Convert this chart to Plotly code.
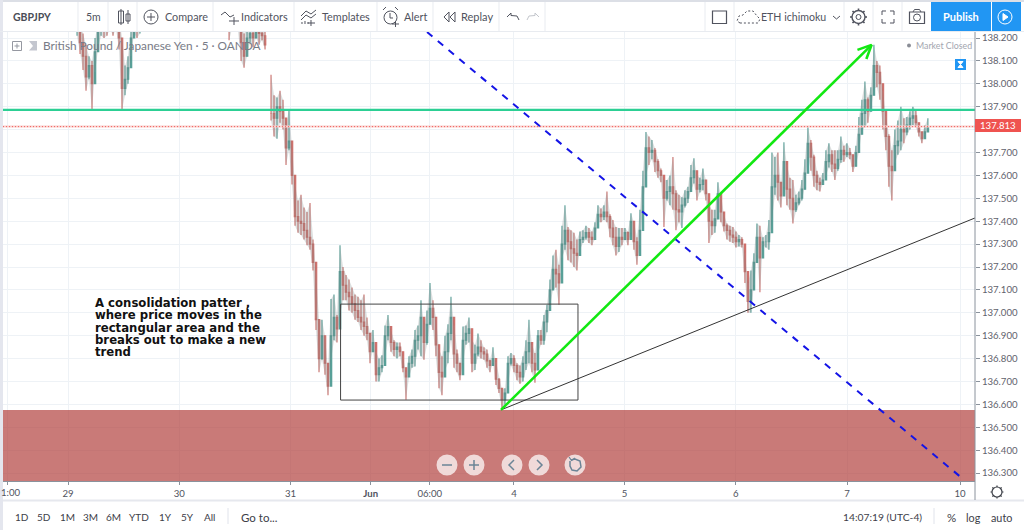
import math
import numpy as np
import plotly.graph_objects as go

# Chart geometry (pixels of the 1024x530 page)
W, H = 1024, 530
PLOT_L, PLOT_R, PLOT_T, PLOT_B = 3, 975, 32, 481
PX_PER_SESSION = 111.3
PX_PER_PRICE = 229.0
SESSION_ZERO_PX = 68
PRICE_REF, PRICE_REF_PX = 138.2, 38

FONT = "Lato"
TEXT = "#50535e"

# GBPJPY candles, one list per stretch of the window where price is on screen
high_a = [138.32,138.30,138.22,138.17,138.12,138.10,138.20,138.28,138.32,138.30,138.30,138.30,138.30,138.33,138.30,138.20,138.08,138.12,138.25,138.35,138.30,138.33]
low_a = [138.21,138.13,138.06,137.97,138.02,137.885,138.05,138.15,138.21,138.20,138.21,138.24,138.21,138.24,138.15,137.885,137.95,138.00,138.12,138.22,138.20,138.22]
close_a = [138.24,138.18,138.12,138.03,138.08,138.00,138.14,138.24,138.28,138.25,138.23,138.27,138.25,138.29,138.20,137.98,138.02,138.07,138.20,138.30,138.24,138.26]

high_b = [138.30,138.34,138.34,138.30,138.27,138.22,138.25,138.30,138.28,138.30,138.27,138.27,138.27]
low_b = [138.19,138.24,138.24,138.23,138.10,138.07,138.12,138.18,138.16,138.20,138.17,138.19,138.15]
close_b = [138.25,138.30,138.28,138.26,138.18,138.12,138.20,138.22,138.20,138.24,138.22,138.21,138.17]

high_c = [138.04,137.95,137.94,137.97,137.93,137.82,137.89,137.71,137.56,137.49,137.515,137.46,137.44,137.48,137.32,137.185,136.97,136.97,136.90,136.75,137.06,137.08,136.99,137.295,137.20,137.165,137.145,137.11,137.08,137.07,137.055,137.08,136.98,136.91,136.925,136.83,136.80,136.815,136.945,136.99,136.925,136.88,136.87,136.87,136.81,136.74,136.81,136.84,136.925,136.945,137.055,136.95,137.01,137.13,137.055,136.98,136.84,136.81,136.90,136.95,137.07,136.945,136.84,136.78,136.94,136.945,136.98,136.88,136.86,136.91,136.88,136.85,136.84,136.795,136.85,136.785,136.715,136.665,136.67,136.81,136.825,136.815,136.78,136.77,136.81,136.88,136.97,136.86,136.825,136.925,136.925,136.99,137.035,137.145,137.25,137.275,137.21,137.38,137.47,137.375,137.36,137.35,137.32,137.355,137.36,137.38,137.37,137.355,137.395,137.47,137.455,137.47,137.53,137.43,137.405,137.375,137.37,137.37,137.37,137.355,137.435,137.395,137.33,137.45,137.62,137.79,137.77,137.755,137.72,137.67,137.63,137.58,137.58,137.60,137.68,137.535,137.515,137.505,137.535,137.55,137.645,137.675,137.60,137.59,137.63,137.58,137.47,137.45,137.45,137.57,137.515,137.43,137.39,137.38,137.375,137.355,137.34,137.33,137.26,137.13,137.185,137.26,137.39,137.38,137.33,137.34,137.405,137.70,137.68,137.70,137.565,137.745,137.645,137.59,137.58,137.515,137.53,137.58,137.67,137.81,137.755,137.69,137.62,137.59,137.61,137.71,137.74,137.71,137.71,137.71,137.77,137.73,137.74,137.72,137.68,137.73,137.855,137.93,138.01,137.94,137.985,138.17,138.10,138.08,137.97,137.86,137.78,137.71,137.80,137.84,137.90,137.85,137.855,137.88,137.90,137.885,137.81,137.785,137.82,137.85]
low_c = [137.84,137.77,137.76,137.83,137.80,137.645,137.71,137.56,137.38,137.35,137.34,137.32,137.295,137.275,137.185,136.925,136.74,136.795,136.73,136.64,136.795,136.88,136.87,136.99,137.055,137.055,137.01,137.00,136.97,136.96,136.925,136.90,136.88,136.78,136.84,136.70,136.70,136.74,136.80,136.88,136.83,136.81,136.80,136.81,136.74,136.62,136.72,136.76,136.765,136.84,136.81,136.795,136.86,136.96,136.925,136.81,136.67,136.64,136.75,136.78,136.88,136.76,136.74,136.705,136.78,136.86,136.87,136.74,136.75,136.81,136.80,136.795,136.76,136.74,136.78,136.685,136.65,136.58,136.60,136.68,136.77,136.74,136.705,136.69,136.70,136.75,136.78,136.74,136.695,136.825,136.86,136.86,136.915,137.025,137.10,137.11,137.035,137.24,137.275,137.23,137.22,137.20,137.185,137.275,137.305,137.32,137.305,137.295,137.32,137.395,137.395,137.405,137.395,137.33,137.295,137.25,137.265,137.295,137.32,137.295,137.35,137.275,137.21,137.295,137.47,137.60,137.645,137.67,137.615,137.59,137.57,137.375,137.49,137.47,137.45,137.36,137.395,137.37,137.46,137.48,137.535,137.565,137.49,137.525,137.535,137.49,137.305,137.34,137.35,137.42,137.395,137.355,137.32,137.31,137.305,137.285,137.29,137.285,137.13,137.00,137.00,137.12,137.25,137.09,137.295,137.285,137.275,137.405,137.515,137.49,137.46,137.55,137.47,137.45,137.39,137.44,137.47,137.49,137.55,137.68,137.62,137.55,137.535,137.53,137.56,137.60,137.635,137.615,137.58,137.62,137.655,137.66,137.68,137.67,137.615,137.645,137.70,137.80,137.81,137.83,137.885,137.98,137.985,137.93,137.80,137.71,137.55,137.49,137.655,137.69,137.71,137.74,137.775,137.80,137.82,137.81,137.77,137.74,137.775,137.80]
close_c = [137.87,137.85,137.90,137.88,137.85,137.72,137.75,137.60,137.42,137.40,137.39,137.36,137.33,137.30,137.22,136.97,136.80,136.90,136.78,136.68,136.90,136.98,136.93,137.18,137.12,137.09,137.07,137.04,137.01,136.98,136.96,136.94,136.91,136.83,136.87,136.73,136.76,136.77,136.90,136.94,136.87,136.84,136.85,136.83,136.76,136.72,136.78,136.81,136.88,136.90,136.98,136.87,136.95,137.02,136.98,136.86,136.74,136.72,136.83,136.91,136.98,136.82,136.78,136.73,136.88,136.91,136.93,136.78,136.82,136.85,136.83,136.82,136.79,136.77,136.80,136.71,136.67,136.62,136.65,136.78,136.80,136.77,136.74,136.72,136.78,136.83,136.87,136.78,136.75,136.90,136.88,136.96,137.01,137.10,137.19,137.17,137.13,137.30,137.36,137.31,137.28,137.26,137.25,137.32,137.33,137.35,137.33,137.32,137.37,137.43,137.42,137.44,137.42,137.37,137.33,137.29,137.33,137.32,137.35,137.32,137.40,137.31,137.25,137.36,137.55,137.72,137.70,137.71,137.66,137.62,137.60,137.50,137.53,137.55,137.52,137.45,137.44,137.47,137.50,137.53,137.59,137.62,137.54,137.56,137.58,137.52,137.40,137.38,137.41,137.52,137.44,137.38,137.36,137.34,137.33,137.31,137.32,137.30,137.18,137.05,137.10,137.22,137.33,137.24,137.31,137.31,137.35,137.55,137.60,137.57,137.51,137.66,137.54,137.50,137.45,137.48,137.50,137.54,137.61,137.74,137.68,137.60,137.57,137.56,137.58,137.66,137.69,137.65,137.63,137.67,137.71,137.69,137.70,137.69,137.64,137.70,137.78,137.87,137.93,137.88,137.95,138.08,138.05,138.00,137.88,137.77,137.64,137.62,137.73,137.75,137.80,137.79,137.82,137.85,137.86,137.83,137.79,137.76,137.79,137.813]

# Session position of the first candle of each stretch, and the spacing between candles
stretch_start = [0.081, 1.447, 1.824]
candle_step = 0.02695

# Price axis and session axis
price_ticks = [138.2,138.1,138.0,137.9,137.8,137.7,137.6,137.5,137.4,137.3,137.2,137.1,137.0,136.9,136.8,136.7,136.6,136.5,136.4,136.3]
price_labels = ["138.200","138.100","138.000","137.900","","137.700","137.600","137.500","137.400","137.300","137.200","137.100","137.000","136.900","136.800","136.700","136.600","136.500","136.400","136.300"]
session_ticks = [-0.54, 0, 1, 2, 2.72, 3.25, 4.007, 5, 6, 7, 8.015]
session_labels = ["", "29", "30", "31", "<b>Jun</b>", "06:00", "4", "5", "6", "7", "10"]

# Drawn levels and tools
last_price = 137.813
resistance_level = 137.886
support_zone = [136.2655, 136.576]
range_box_sessions = [2.449, 4.582]
range_box_prices = [136.619, 137.038]
impulse_sessions = [3.89, 7.22]
impulse_prices = [136.576, 138.17]
trend_sessions = [3.89, 8.149]
trend_prices = [136.576, 137.414]
falling_sessions = [3.226, 8.03]
falling_prices = [138.226, 136.279]

note_lines = ["A consolidation patter ,", "where price moves in the", "rectangular area and the", "breaks out to make a new", "trend"]
legend_title = "British Pound / Japanese Yen · 5 · OANDA"
range_buttons = ["1D", "5D", "1M", "3M", "6M", "YTD", "1Y", "5Y", "All"]


def session_x(px):
    return (px - SESSION_ZERO_PX) / PX_PER_SESSION


def price_y(py):
    return PRICE_REF - (py - PRICE_REF_PX) / PX_PER_PRICE


def fx(px):
    return px / W


def fy(py):
    return 1 - py / H


fig = go.Figure()
shapes, notes = [], []


def path(points, close=False):
    d = "M" + " L".join(f"{fx(x):.5f},{fy(y):.5f}" for x, y in points)
    return d + (" Z" if close else "")


def poly(points, color=TEXT, width=1, fill=None, close=False, layer="above", dash=None):
    line = dict(color=color, width=width)
    if dash:
        line["dash"] = dash
    shapes.append(dict(type="path", xref="paper", yref="paper", path=path(points, close),
                       line=line, fillcolor=fill if fill else "rgba(0,0,0,0)", layer=layer))


def box(x0, y0, x1, y1, fill=None, color=None, width=0, layer="above", kind="rect", dash=None):
    line = dict(color=color if color else "rgba(0,0,0,0)", width=width)
    if dash:
        line["dash"] = dash
    shapes.append(dict(type=kind, xref="paper", yref="paper", x0=fx(x0), x1=fx(x1), y0=fy(y0), y1=fy(y1),
                       fillcolor=fill if fill else "rgba(0,0,0,0)", line=line, layer=layer))


def label(px, py, text, size=12, color=TEXT, anchor="left", family=FONT):
    notes.append(dict(xref="paper", yref="paper", x=fx(px), y=fy(py), text=text, showarrow=False,
                      xanchor=anchor, yanchor="middle", align=anchor, borderpad=0,
                      font=dict(family=family, size=size, color=color)))


# Candles, over a faint high-low band that fills the gaps between them
xs, opens, highs, lows, closes = [], [], [], [], []
for start, hi, lo, cl in zip(stretch_start, (high_a, high_b, high_c), (low_a, low_b, low_c), (close_a, close_b, close_c)):
    stretch_x = list(start + np.arange(len(cl)) * candle_step)
    fig.add_trace(go.Scatter(x=stretch_x + stretch_x[::-1], y=hi + lo[::-1], mode="lines", fill="toself",
                             fillcolor="rgba(110,122,122,0.24)", line=dict(width=0), hoverinfo="skip", showlegend=False))
    xs += stretch_x
    opens += [cl[0]] + cl[:-1]
    highs += hi
    lows += lo
    closes += cl

fig.add_trace(go.Candlestick(
    x=xs, open=opens, high=highs, low=lows, close=closes,
    increasing=dict(line=dict(color="#4a9890", width=1.1), fillcolor="#4a9890"),
    decreasing=dict(line=dict(color="#cb6560", width=1.1), fillcolor="#cb6560"),
    whiskerwidth=0, opacity=0.92, hoverinfo="skip", showlegend=False))

x_span = [session_x(PLOT_L), session_x(PLOT_R)]

# Last price: a pale band with a fine red dotted line on it
fig.add_trace(go.Scatter(x=x_span, y=[last_price, last_price], mode="lines",
                         line=dict(color="#f9cfcd", width=2), hoverinfo="skip", showlegend=False))
fig.add_trace(go.Scatter(x=x_span, y=[last_price, last_price], mode="lines",
                         line=dict(color="#f0605c", width=1, dash="1px,2px"), hoverinfo="skip", showlegend=False))

# Resistance, range box and the trend tools
fig.add_trace(go.Scatter(x=x_span, y=[resistance_level, resistance_level], mode="lines",
                         line=dict(color="#2ccf94", width=2.4), hoverinfo="skip", showlegend=False))
bx, by = range_box_sessions, range_box_prices
fig.add_trace(go.Scatter(x=[bx[0], bx[1], bx[1], bx[0], bx[0]], y=[by[0], by[0], by[1], by[1], by[0]], mode="lines",
                         line=dict(color="#444444", width=1), hoverinfo="skip", showlegend=False))
fig.add_trace(go.Scatter(x=trend_sessions, y=trend_prices, mode="lines",
                         line=dict(color="#333333", width=1), hoverinfo="skip", showlegend=False))
fig.add_trace(go.Scatter(x=falling_sessions, y=falling_prices, mode="lines",
                         line=dict(color="#1414e6", width=2, dash="7px,7px"), hoverinfo="skip", showlegend=False))

# Impulse arrow: the open head is worked out from the shaft direction on screen
tip_x, tip_y = impulse_sessions[1], impulse_prices[1]
shaft = math.atan2((impulse_prices[1] - impulse_prices[0]) * PX_PER_PRICE,
                   (impulse_sessions[1] - impulse_sessions[0]) * PX_PER_SESSION)
barbs = []
for turn in (math.radians(25), -math.radians(25)):
    barbs.append((tip_x - 15 * math.cos(shaft + turn) / PX_PER_SESSION,
                  tip_y - 15 * math.sin(shaft + turn) / PX_PER_PRICE))
fig.add_trace(go.Scatter(x=impulse_sessions + [None, barbs[0][0], tip_x, barbs[1][0]],
                         y=impulse_prices + [None, barbs[0][1], tip_y, barbs[1][1]],
                         mode="lines", line=dict(color="#12e812", width=2.6), hoverinfo="skip", showlegend=False))

# Support zone, under the drawn lines but tinting the grid
shapes.append(dict(type="rect", xref="x", yref="y", x0=x_span[0], x1=x_span[1], y0=support_zone[0], y1=support_zone[1],
                   fillcolor="rgba(178,66,62,0.70)", line=dict(width=0), layer="between"))

# Page furniture around the chart
box(0, 0, W, 2, fill="#dcdfe6")
box(0, 0, 3, H, fill="#e4e6ee")
box(0, 31, W, 32, fill="#e8ebf0")
box(3, 499.5, W, 501.5, fill="#e6e8ee")
poly([(975, 32), (975, 500)], color="#8a929c", width=1)

# Top toolbar
for sx in (78, 108, 137, 213, 294, 377, 433, 499, 545, 705, 734, 844, 873, 902):
    poly([(sx, 2), (sx, 31)], color="#e8ebf0", width=1)
label(12, 17, "<b>GBPJPY</b>", 10.5, "#4a4d57")
label(93, 17, "5m", 10.5, TEXT, "center")
label(164, 17, "Compare", 10.8, TEXT)
label(240, 17, "Indicators", 10.8, TEXT)
label(321, 17, "Templates", 10.8, TEXT)
label(403, 17, "Alert", 10.8, TEXT)
label(460, 17, "Replay", 11, TEXT)
label(760, 17, "ETH ichimoku", 10.6, TEXT)

# candle style icon
box(118.5, 11, 123.5, 23, color=TEXT, width=1)
poly([(121, 9), (121, 25)], color=TEXT)
box(126, 14, 130, 21, color=TEXT, width=1)
poly([(128, 10), (128, 24)], color=TEXT)
# compare icon
box(144, 10, 158, 24, color=TEXT, width=1, kind="circle")
poly([(147, 17), (155, 17)], color=TEXT)
poly([(151, 13), (151, 21)], color=TEXT)
# indicators icon
poly([(221, 15), (225, 12), (230, 17), (234, 15)], color=TEXT)
poly([(229, 21), (239, 21)], color=TEXT)
poly([(234, 17), (234, 25)], color=TEXT)
# templates icon
poly([(301, 16), (306, 11), (311, 14), (316, 10)], color=TEXT)
poly([(301, 20), (306, 15), (311, 18), (316, 14)], color=TEXT)
poly([(302, 24), (302, 22)], color=TEXT)
poly([(305, 24), (305, 21)], color=TEXT)
poly([(308, 24), (308, 22)], color=TEXT)
poly([(311, 20), (311, 26)], color=TEXT)
poly([(308, 23), (315, 23)], color=TEXT)
# alert icon
box(384, 11, 397, 24, color=TEXT, width=1, kind="circle")
poly([(390, 13), (390, 18), (393, 18)], color=TEXT)
poly([(383, 10), (386, 7)], color=TEXT)
poly([(395, 7), (398, 10)], color=TEXT)
poly([(392, 24), (399, 24)], color=TEXT, width=1)
poly([(395.5, 21), (395.5, 27)], color=TEXT, width=1)
# replay icon
poly([(449, 12), (444, 17), (449, 22)], color=TEXT, fill="rgba(0,0,0,0)", close=True)
poly([(455, 12), (450, 17), (455, 22)], color=TEXT, fill="rgba(0,0,0,0)", close=True)
# undo and redo
poly([(507, 17), (511, 13), (511, 15.5), (517, 16), (519, 20)], color=TEXT)
poly([(539, 17), (535, 13), (535, 15.5), (529, 16), (527, 20)], color="#c3c6cc")
# layout square
box(712.5, 11, 726.5, 23.5, color=TEXT, width=1.2)
# cloud outline
poly([(740, 23), (737, 21), (739, 16), (743, 15), (747, 11), (753, 11), (757, 16), (760, 19), (758, 23), (740, 23)],
     color=TEXT, width=1, dash="2px,2px")
# chevron
poly([(833, 16), (836.5, 19), (840, 16)], color=TEXT)
# settings gear
box(852, 10.5, 865, 23.5, color=TEXT, width=1.4, kind="circle")
box(856, 14.5, 861, 19.5, color=TEXT, width=1, kind="circle")
for ang in range(0, 360, 45):
    ca, sa = math.cos(math.radians(ang)), math.sin(math.radians(ang))
    poly([(858.5 + 6.5 * ca, 17 + 6.5 * sa), (858.5 + 8.5 * ca, 17 + 8.5 * sa)], color=TEXT, width=1.6)
# fullscreen
for cx, cy, dx, dy in ((882, 11, 1, 1), (894, 11, -1, 1), (882, 23, 1, -1), (894, 23, -1, -1)):
    poly([(cx + 4 * dx, cy), (cx, cy), (cx, cy + 4 * dy)], color=TEXT)
# camera
box(909.5, 12, 924.5, 23.5, color=TEXT, width=1.2)
box(913.5, 14, 920.5, 21, color=TEXT, width=1, kind="circle")
poly([(913, 12), (914.5, 9.5), (919.5, 9.5), (921, 12)], color=TEXT)
# publish buttons
box(931, 2, 991, 31, fill="#2196f3")
box(992, 2, 1021, 31, fill="#2196f3")
label(961, 16.5, "<b>Publish</b>", 11, "#ffffff", "center")
box(998, 10, 1012, 24, color="#ffffff", width=1, kind="circle")
poly([(1003, 13.5), (1003, 20.5), (1008, 17)], color="#ffffff", fill="#ffffff", close=True)

# Series legend and market status
box(12.5, 41.5, 21.5, 50.5, color="#9598a1", width=1)
poly([(14.5, 46), (19.5, 46)], color="#9598a1")
poly([(17, 43.5), (17, 48.5)], color="#9598a1")
poly([(29, 41), (37, 41), (37, 50.5), (29, 50.5), (33, 46)], color="#c3c6cf", fill="#c3c6cf", width=0, close=True)
label(42, 46, legend_title, 11.8, "#787b86")
box(907, 43.5, 911, 47.5, fill="#8a8d96", kind="circle")
label(915, 45.5, "Market Closed", 8.8, "#a3a6af")
box(955, 59, 966, 70, fill="#2196f3")
poly([(958, 61.5), (963, 61.5), (960.5, 64.5)], color="#ffffff", fill="#ffffff", close=True)
poly([(958, 67.5), (963, 67.5), (960.5, 64.5)], color="#ffffff", fill="#ffffff", close=True)

# Description next to the range box
for line_y, line in zip((303, 315.3, 327.6, 340, 352), note_lines):
    label(93.5, line_y, f"<b>{line}</b>", 11.7, "#111111", family="DejaVu Sans")

# Last price tag
box(975, 119, 1021, 132, fill="#ef5350")
label(998, 125.5, "137.813", 9.6, "#ffffff", "center")

# Clipped time label at the left end of the axis
label(11, 492, "1:00", 9.6, TEXT, "center")

# Navigation buttons over the chart
for cx in (447, 474, 512, 539, 575):
    box(cx - 10.5, 454.5, cx + 10.5, 475.5, fill="rgba(255,255,255,0.72)", kind="circle")
ICON = "#6b8496"
poly([(442, 465), (452, 465)], color=ICON, width=1.5)
poly([(469, 465), (479, 465)], color=ICON, width=1.5)
poly([(474, 460), (474, 470)], color=ICON, width=1.5)
poly([(514, 460), (509, 465), (514, 470)], color=ICON, width=1.5)
poly([(537, 460), (542, 465), (537, 470)], color=ICON, width=1.5)
poly([(570, 461), (570, 466), (572, 470), (577, 471), (581, 467), (580, 461), (575, 459), (571, 460)], color=ICON, width=1.5)
poly([(569, 457), (571.5, 460.5), (575, 458)], color=ICON, width=1.2)

# Axis settings gear
box(992, 487, 1002, 497, color="#3d4048", width=1.2, kind="circle")
for ang in range(0, 360, 45):
    ca, sa = math.cos(math.radians(ang)), math.sin(math.radians(ang))
    poly([(997 + 5 * ca, 492 + 5 * sa), (997 + 6.5 * ca, 492 + 6.5 * sa)], color="#3d4048", width=1.2)

# Bottom toolbar
for cx, text in zip((21.7, 43.5, 67, 90, 113, 139, 165, 187, 209), range_buttons):
    label(cx, 517, text, 10, "#3d4048", "center")
poly([(228, 508), (228, 524)], color="#e0e3eb")
label(240, 517, "Go to...", 11.5, "#3d4048")
label(842, 517, "14:07:19 (UTC-4)", 10.3, "#3d4048")
poly([(934, 508), (934, 524)], color="#e0e3eb")
label(951, 517, "%", 11.5, "#3d4048", "center")
label(973, 517, "log", 10.8, "#3d4048", "center")
label(1001, 517, "auto", 10.8, "#3d4048", "center")

fig.update_layout(
    width=W, height=H, margin=dict(l=0, r=0, t=0, b=0),
    paper_bgcolor="#ffffff", plot_bgcolor="#ffffff",
    showlegend=False, hovermode=False, shapes=shapes, annotations=notes,
    xaxis=dict(domain=[fx(PLOT_L), fx(PLOT_R)], range=x_span, type="linear", rangeslider=dict(visible=False),
               tickmode="array", tickvals=session_ticks, ticktext=session_labels,
               showgrid=True, gridcolor="#eef2f6", gridwidth=1, zeroline=False,
               ticks="outside", ticklen=3, tickcolor="#8a929c",
               showline=True, linecolor="#8a929c", linewidth=1,
               tickfont=dict(family=FONT, size=9.6, color=TEXT), fixedrange=True),
    yaxis=dict(domain=[fy(PLOT_B), fy(PLOT_T)], range=[price_y(PLOT_B), price_y(PLOT_T)], side="right",
               tickmode="array", tickvals=price_ticks, ticktext=price_labels,
               showgrid=True, gridcolor="#eef2f6", gridwidth=1, zeroline=False,
               ticks="outside", ticklen=4, tickcolor="#8a929c",
               showline=False, tickfont=dict(family=FONT, size=9.6, color="#5f626c"), fixedrange=True),
)

fig.write_html("out.html", config={"displayModeBar": False, "staticPlot": True})
